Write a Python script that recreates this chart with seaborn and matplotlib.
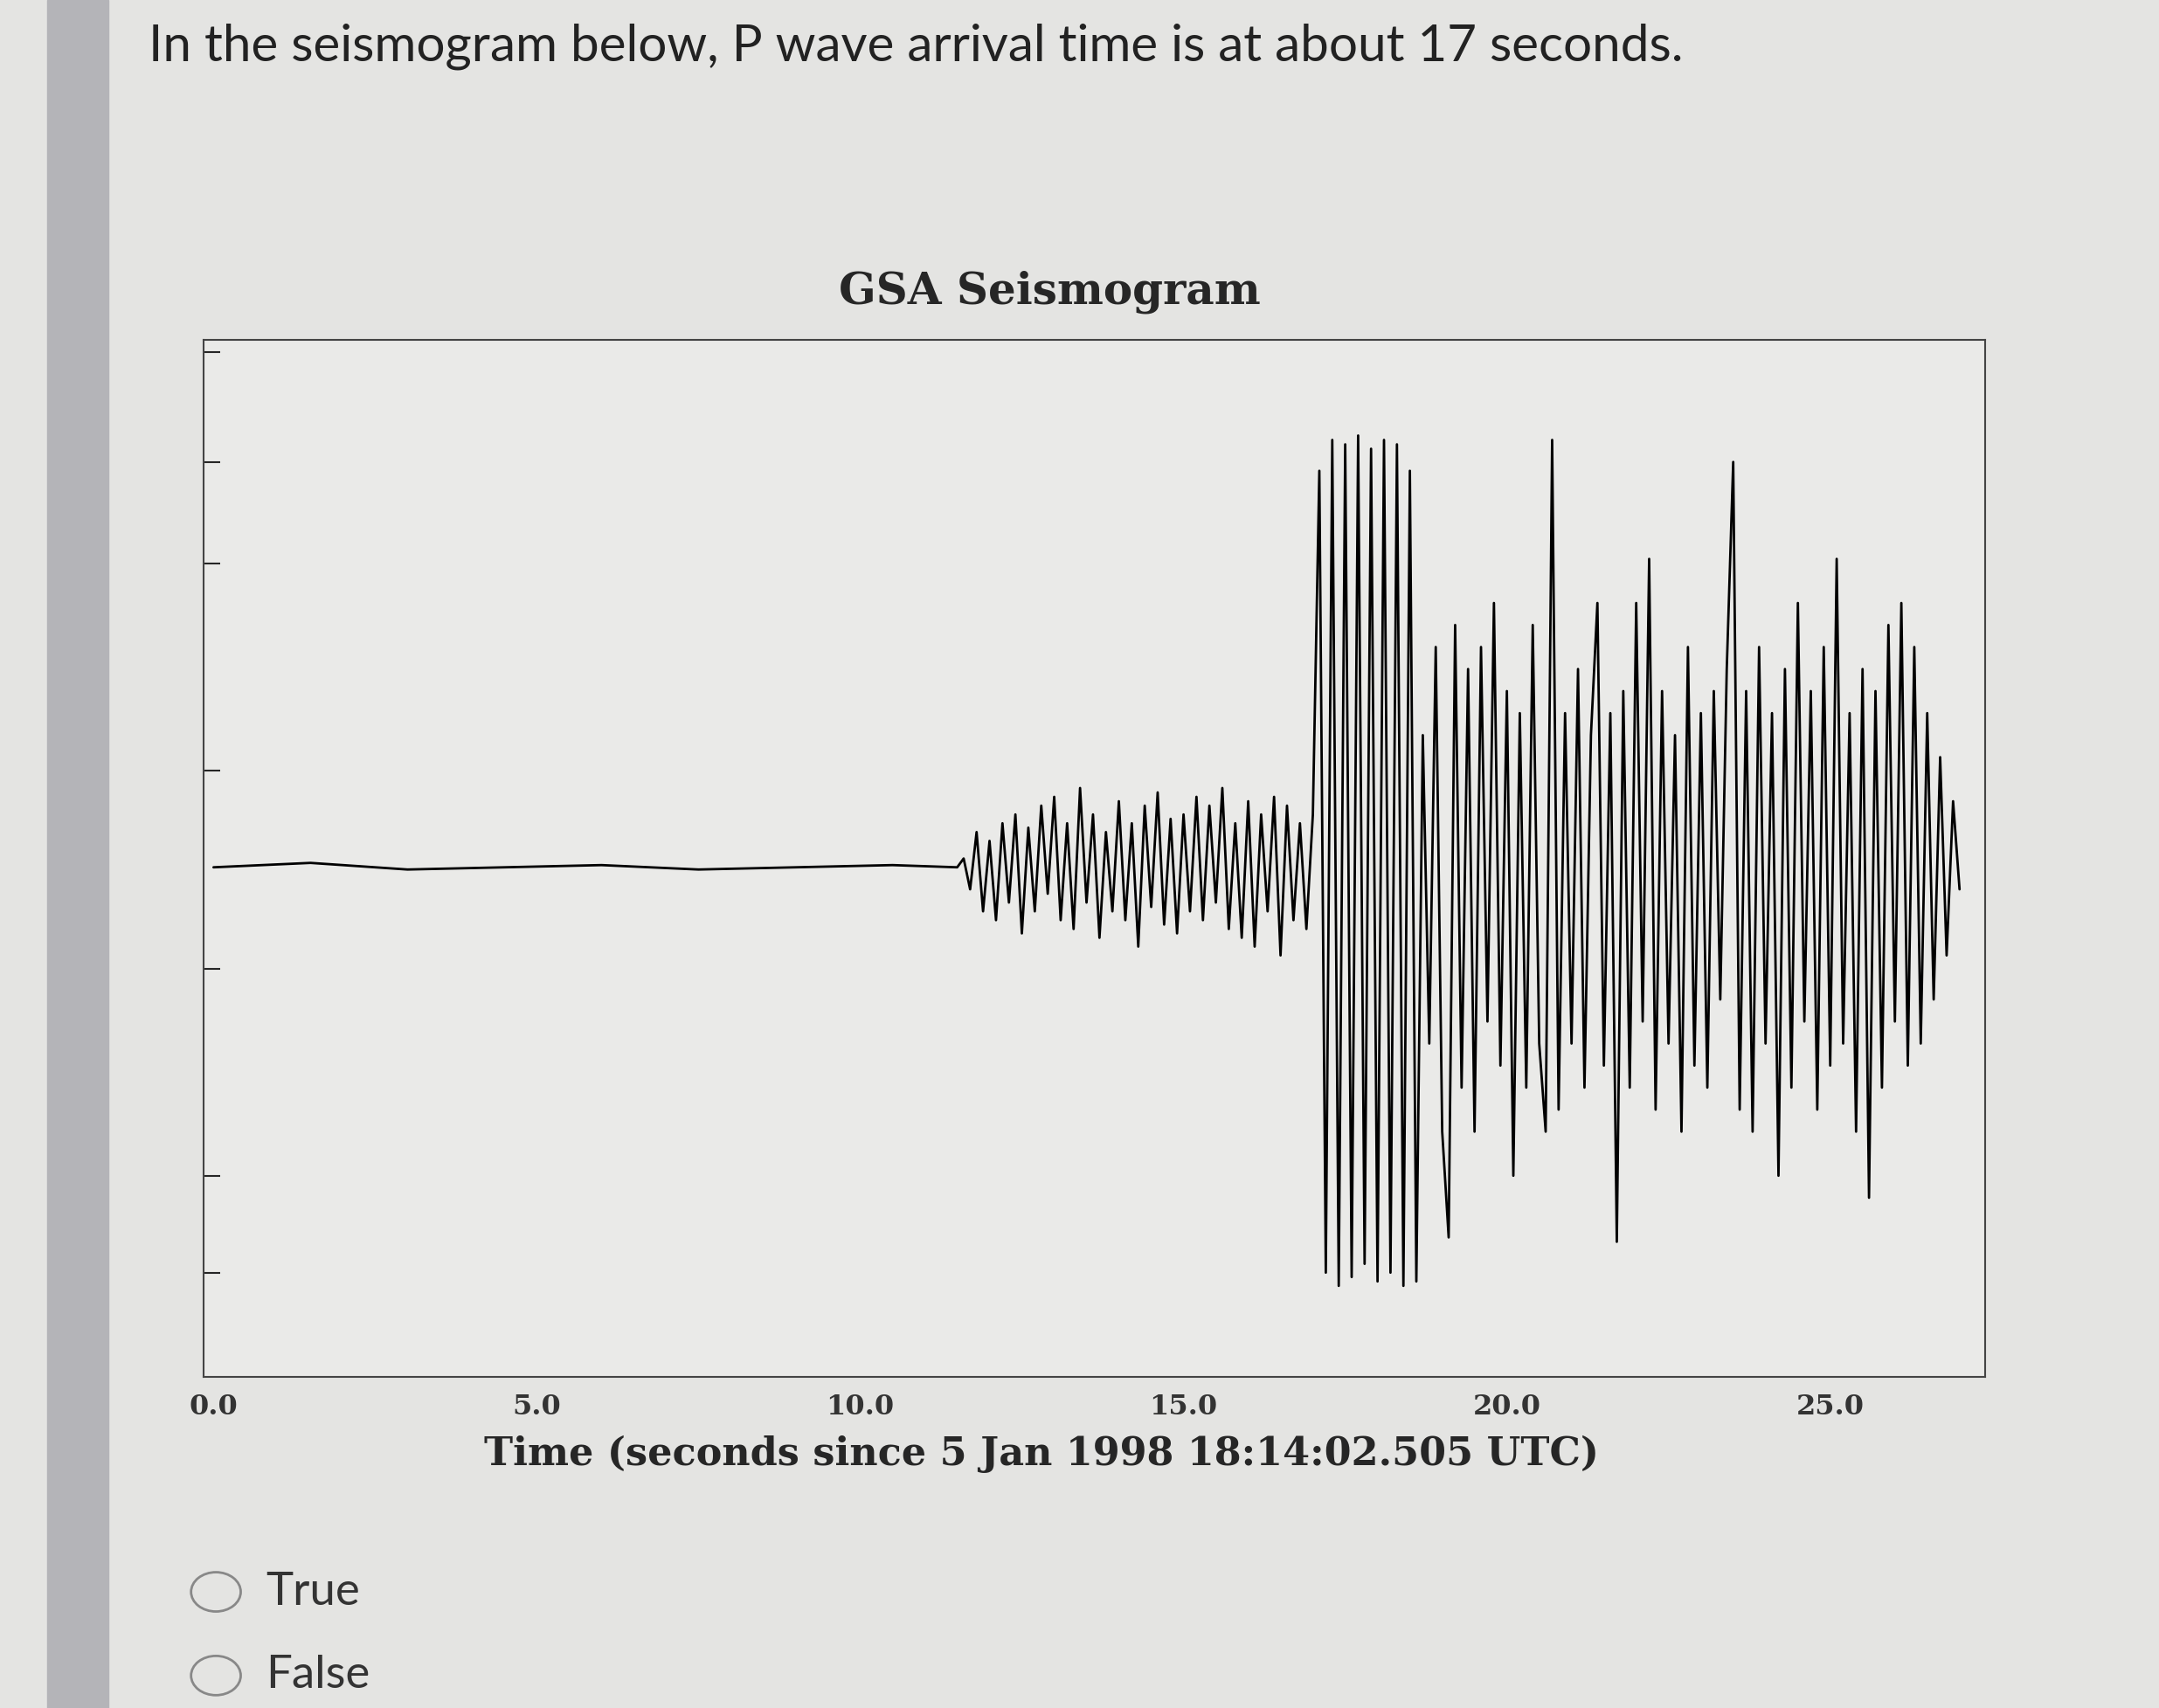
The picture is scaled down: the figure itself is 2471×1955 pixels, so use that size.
import numpy as np
import matplotlib
matplotlib.use("Agg")
import matplotlib.pyplot as plt
import seaborn as sns
from matplotlib.patches import Rectangle, Circle

sns.set_style("white")

# quiet part of the trace before the first arrivals
flat_t = [0.0, 1.5, 3.0, 4.5, 6.0, 7.5, 9.0, 10.5, 11.5]
flat_v = [0.0, 0.01, -0.005, 0.0, 0.005, -0.005, 0.0, 0.005, 0.0]

# small wiggles 11.6 - 17.0 s
seg1 = [0.02,-0.05,0.08,-0.1,0.06,-0.12,0.1,-0.08,0.12,-0.15,0.09,-0.1,0.14,-0.06,0.16,-0.12,0.1,-0.14,
        0.18,-0.08,0.12,-0.16,0.08,-0.1,0.15,-0.12,0.1,-0.18,0.14,-0.09,0.17,-0.13,0.11,-0.15,0.12,-0.1,
        0.16,-0.12,0.14,-0.08,0.18,-0.14,0.1,-0.16,0.15,-0.18,0.12,-0.1,0.16,-0.2,0.14,-0.12,0.1,-0.14,0.12]
# big arrival 17.1 - 18.7 s
seg2 = [0.9,-0.92,0.97,-0.95,0.96,-0.93,0.98,-0.9,0.95,-0.94,0.97,-0.92,0.96,-0.95,0.9,-0.94,0.3]
# coda 18.8 - 27.0 s
seg3 = [-0.4,0.5,-0.6,-0.84,0.55,-0.5,0.45,-0.6,0.5,-0.35,
        0.6,-0.45,0.4,-0.7,0.35,-0.5,0.55,-0.4,-0.6,0.97,
        -0.55,0.35,-0.4,0.45,-0.5,0.3,0.6,-0.45,0.35,-0.85,
        0.4,-0.5,0.6,-0.35,0.7,-0.55,0.4,-0.4,0.3,-0.6,
        0.5,-0.45,0.35,-0.5,0.4,-0.3,0.45,0.92,-0.55,0.4,
        -0.6,0.5,-0.4,0.35,-0.7,0.45,-0.5,0.6,-0.35,0.4,
        -0.55,0.5,-0.45,0.7,-0.4,0.35,-0.6,0.45,-0.75,0.4,
        -0.5,0.55,-0.35,0.6,-0.45,0.5,-0.4,0.35,-0.3,0.25,
        -0.2,0.15,-0.05]

x_ticks = [0, 5, 10, 15, 20, 25]
x_tick_labels = ["0.0", "5.0", "10.0", "15.0", "20.0", "25.0"]
y_ticks = [1.17, 0.92, 0.69, 0.22, -0.23, -0.70, -0.92]

wave_v = seg1 + seg2 + seg3
wave_t = list(np.round(11.6 + 0.1 * np.arange(len(wave_v)), 2))
times = flat_t + wave_t
values = flat_v + wave_v

fig = plt.figure(figsize=(24.71, 19.55), dpi=100)
fig.patch.set_facecolor("#e4e4e2")
# grey sidebar on the left
fig.add_artist(Rectangle((0.022, 0), 0.028, 1, transform=fig.transFigure, color="#b4b4b8", zorder=0))

fig.text(0.069, 0.973, "In the seismogram below, P wave arrival time is at about 17 seconds.",
         fontsize=42, family="Lato", color="#222222", va="center")

ax = fig.add_axes([0.0944, 0.194, 0.8252, 0.607])
ax.set_facecolor("#eaeae8")
sns.lineplot(x=times, y=values, ax=ax, color="black", linewidth=2, sort=False, estimator=None)
ax.set_xlim(-0.15, 27.4)
ax.set_ylim(-1.156, 1.197)
ax.set_xticks(x_ticks)
ax.set_xticklabels(x_tick_labels, family="DejaVu Serif", fontweight="bold", fontsize=23, color="#333333")
ax.tick_params(axis="x", length=0, pad=14)
ax.set_yticks(y_ticks)
ax.set_yticklabels([])
ax.tick_params(axis="y", direction="in", length=14, width=1.5, left=True)
for s in ax.spines.values():
    s.set_color("#444444")
    s.set_linewidth(1.5)
ax.set_title("GSA Seismogram", family="DejaVu Serif", fontweight="bold", fontsize=36, pad=30, x=0.475)
ax.set_xlabel("Time (seconds since 5 Jan 1998 18:14:02.505 UTC)", family="DejaVu Serif",
              fontweight="bold", fontsize=32, labelpad=12, x=0.47)

for y, lab in [(0.068, "True"), (0.019, "False")]:
    fig.add_artist(Circle((0.1, y), 0.0115, transform=fig.transFigure, fill=False,
                          edgecolor="#888888", linewidth=2))
    fig.text(0.123, y, lab, fontsize=38, family="Lato", color="#333333", va="center")

fig.savefig("out.png", dpi=100, facecolor=fig.get_facecolor())
